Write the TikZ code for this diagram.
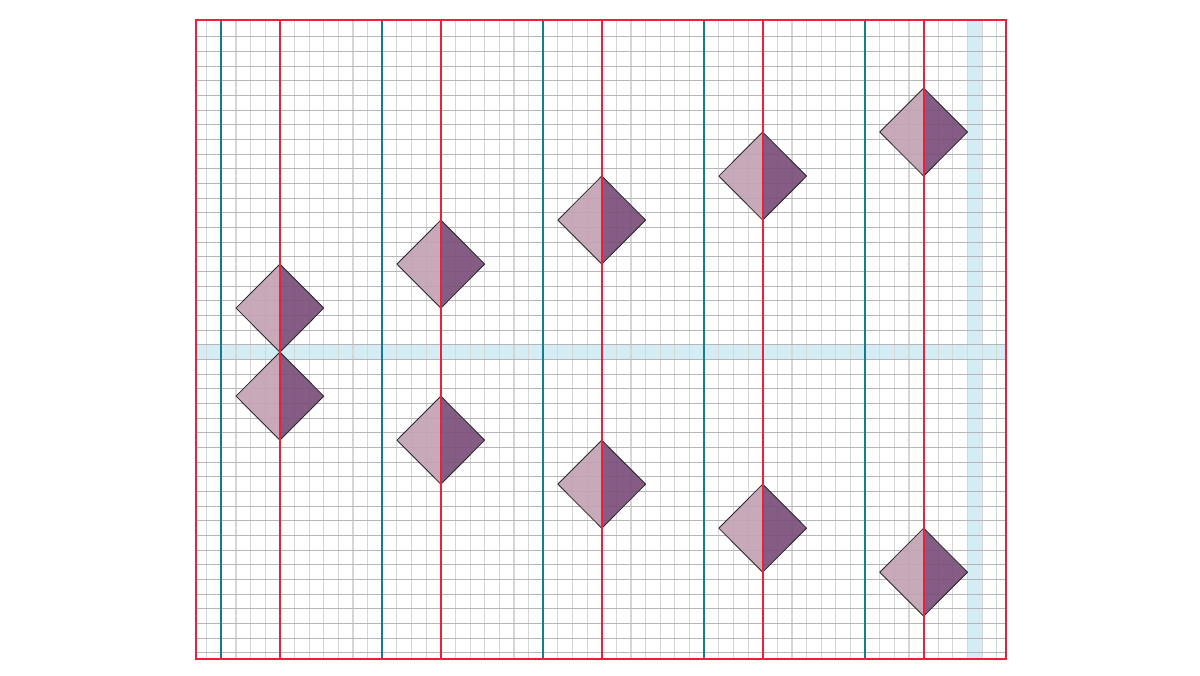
\documentclass[tikz,border=0pt]{standalone}
\usetikzlibrary{positioning}

\definecolor{guideteal}{RGB}{18,124,144}
\definecolor{guidered}{RGB}{236,32,58}
\definecolor{bandblue}{RGB}{212,236,243}
\definecolor{vgray}{RGB}{214,214,214}
\definecolor{hgray}{RGB}{182,182,182}
\definecolor{mauvelight}{RGB}{194,162,180}
\definecolor{mauvedark}{RGB}{122,78,122}

\tikzset{
    vgrid/.style={vgray,line width=1.1pt},
    hgrid/.style={hgray,line width=0.8pt},
    tealline/.style={guideteal,line width=2.2pt},
    redline/.style={guidered,line width=2.2pt},
    halfleft/.style={fill=mauvelight,fill opacity=0.92},
    halfright/.style={fill=mauvedark,fill opacity=0.92},
    rim/.style={draw=black!85,line width=0.8pt,line join=round}
}

\begin{document}
\begin{tikzpicture}[x=0.4986cm,y=-0.5cm]
\useasboundingbox (-14.13,-2.50) rectangle (67.89,43.51);

% frame corners
\coordinate (tl) at (-0.73,-1.14);
\coordinate (br) at (54.64,42.4);

% blue bands
\fill[bandblue] (-0.73,21) rectangle (54.64,22);
\fill[bandblue] (52,-1.14) rectangle (53,42.4);

% grid
\foreach \k in {0,...,54}
    \draw[vgrid] (\k,-1.14) -- (\k,42.4);
\foreach \j in {0,...,42}
    \draw[hgrid] (-0.73,\j) -- (54.64,\j);

% teal guides
\foreach \x in {1,12,23,34,45}
    \draw[tealline] (\x,-1.14) -- (\x,42.4);

% diamonds
\foreach \cx/\up/\dn in {5/18.5/24.5, 16/15.5/27.5, 27/12.5/30.5, 38/9.5/33.5, 49/6.5/36.5} {
    \foreach \yy in {\up,\dn} {
        \fill[halfleft] (\cx-3,\yy) -- (\cx,\yy-3) -- (\cx,\yy+3) -- cycle;
        \fill[halfright] (\cx+3,\yy) -- (\cx,\yy-3) -- (\cx,\yy+3) -- cycle;
        \draw[rim] (\cx-3,\yy) -- (\cx,\yy-3) -- (\cx+3,\yy) -- (\cx,\yy+3) -- cycle;
    }
}

% red guides
\foreach \x in {5,16,27,38,49}
    \draw[redline] (\x,-1.14) -- (\x,42.4);

% frame
\draw[guidered,line width=1.5pt] (tl) rectangle (br);
\end{tikzpicture}
\end{document}
